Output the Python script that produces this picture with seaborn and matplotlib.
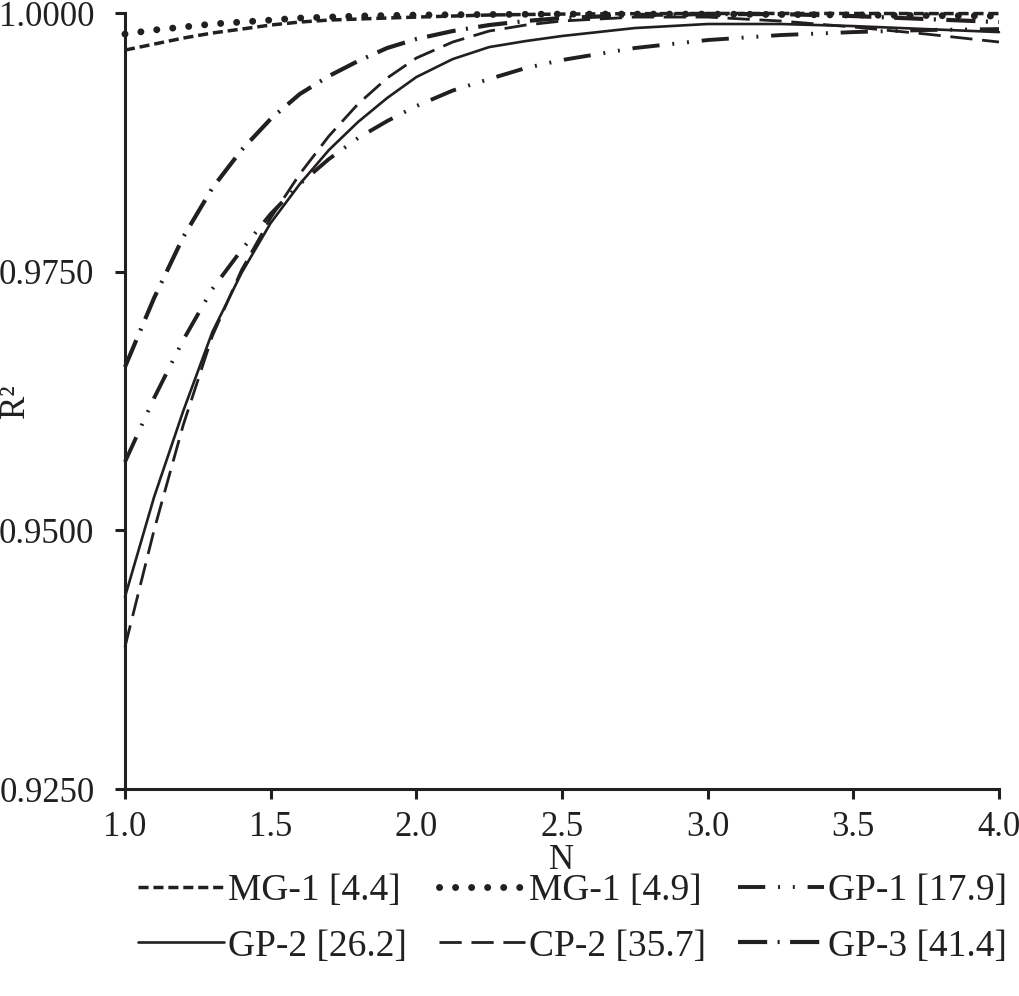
import numpy as np
import pandas as pd
import matplotlib
matplotlib.use("Agg")
import matplotlib.pyplot as plt
import seaborn as sns

# ---- data ----
N = [1.0, 1.1, 1.2, 1.3, 1.4, 1.5, 1.6, 1.7, 1.8, 1.9, 2.0,
     2.125, 2.25, 2.375, 2.5, 2.75, 3.0, 3.25, 3.5, 3.75, 4.0]

mg1_44 = [0.99642, 0.99700, 0.99758, 0.99807, 0.99845, 0.99884, 0.99913, 0.99932,
          0.99942, 0.99952, 0.99961, 0.99971, 0.99981, 0.99986, 0.99990, 0.99994,
          0.99996, 0.99996, 0.99996, 0.99995, 0.99995]
mg1_49 = [0.99797, 0.99836, 0.99865, 0.99894, 0.99913, 0.99932, 0.99952, 0.99961,
          0.99971, 0.99976, 0.99981, 0.99984, 0.99986, 0.99988, 0.99990, 0.99990,
          0.99990, 0.99986, 0.99981, 0.99976, 0.99971]
gp1 = [0.95661, 0.96279, 0.96840, 0.97333, 0.97710, 0.98057, 0.98347, 0.98589,
       0.98792, 0.98956, 0.99101, 0.99251, 0.99362, 0.99468, 0.99546, 0.99662,
       0.99739, 0.99787, 0.99816, 0.99836, 0.99845]
gp2 = [0.94356, 0.95322, 0.96153, 0.96917, 0.97487, 0.97970, 0.98347, 0.98676,
       0.98947, 0.99179, 0.99381, 0.99555, 0.99671, 0.99729, 0.99778, 0.99855,
       0.99894, 0.99894, 0.99874, 0.99845, 0.99816]
cp2 = [0.93873, 0.95003, 0.96018, 0.96878, 0.97516, 0.98019, 0.98444, 0.98811,
       0.99121, 0.99372, 0.99565, 0.99720, 0.99826, 0.99884, 0.99923, 0.99961,
       0.99961, 0.99923, 0.99865, 0.99797, 0.99720]
gp3 = [0.96579, 0.97246, 0.97835, 0.98309, 0.98676, 0.98976, 0.99217, 0.99391,
       0.99536, 0.99662, 0.99749, 0.99826, 0.99884, 0.99923, 0.99952, 0.99981,
       0.99990, 0.99990, 0.99971, 0.99942, 0.99913]

labels = ["MG-1 [4.4]", "MG-1 [4.9]", "GP-1 [17.9]", "GP-2 [26.2]", "CP-2 [35.7]", "GP-3 [41.4]"]
series = [mg1_44, mg1_49, gp1, gp2, cp2, gp3]

x_ticks = [1.0, 1.5, 2.0, 2.5, 3.0, 3.5, 4.0]
y_ticks = [0.9250, 0.9500, 0.9750, 1.0000]

# ---- styles ----
INK = "#231f20"
styles = [
    dict(lw=2.5, dashes=(2.9, 1.4), cap="butt"),
    dict(lw=5.0, dashes=(0.01, 2.3), cap="round"),
    dict(lw=2.8, dashes=(7, 3.3, 0.5, 3.3, 0.5, 3.3), cap="butt"),
    dict(lw=1.9, dashes=None, cap="butt"),
    dict(lw=2.0, dashes=(8, 3.5), cap="butt"),
    dict(lw=3.0, dashes=(7, 2.5, 0.5, 2.5), cap="butt"),
]

sns.set_theme(style="ticks")
plt.rcParams["font.family"] = ["Liberation Serif", "DejaVu Serif"]

fig = plt.figure(figsize=(10.2, 9.96), dpi=100)
ax = fig.add_axes([0.1225, 0.2078, 0.8569, 0.7791])

handles = []
for vals, lab, st in zip(series, labels, styles):
    df = pd.DataFrame({"N": N, "R2": vals})
    sns.lineplot(data=df, x="N", y="R2", ax=ax, color=INK, lw=st["lw"], label=lab, legend=False)
    line = ax.lines[-1]
    if st["dashes"] is not None:
        line.set_dashes(st["dashes"])
        line.set_dash_capstyle(st["cap"])
    line.set_solid_joinstyle("round")
    line.set_clip_on(False)
    handles.append(line)

ax.set_xlim(1.0, 4.0)
ax.set_ylim(0.925, 1.0)
ax.set_xticks(x_ticks)
ax.set_xticklabels([f"{t:.1f}" for t in x_ticks])
ax.set_yticks(y_ticks)
ax.set_yticklabels([f"{t:.4f}" for t in y_ticks])

for s in ["top", "right"]:
    ax.spines[s].set_visible(False)
for s in ["left", "bottom"]:
    ax.spines[s].set_linewidth(2.2)
    ax.spines[s].set_color(INK)

ax.tick_params(axis="both", direction="out", length=7, width=2.2, colors=INK,
               labelsize=25, labelcolor=INK)
ax.tick_params(axis="y", pad=15)
ax.tick_params(axis="x", pad=9)

ax.set_xlabel("N", fontsize=25, color=INK)
ax.set_ylabel("R²", fontsize=25, color=INK)
ax.xaxis.set_label_coords(0.5, -0.071)
ax.yaxis.set_label_coords(-0.106, 0.5)

order = [0, 3, 1, 4, 2, 5]
leg = fig.legend([handles[i] for i in order], [labels[i] for i in order],
                 ncol=3, loc="center", bbox_to_anchor=(0.561, 0.0775),
                 frameon=False, fontsize=27, handlelength=2.3, handletextpad=0.1,
                 columnspacing=0.85, labelspacing=0.55, borderpad=0.0)
for t in leg.get_texts():
    t.set_color(INK)

fig.savefig("out.png", dpi=100, facecolor="white")
